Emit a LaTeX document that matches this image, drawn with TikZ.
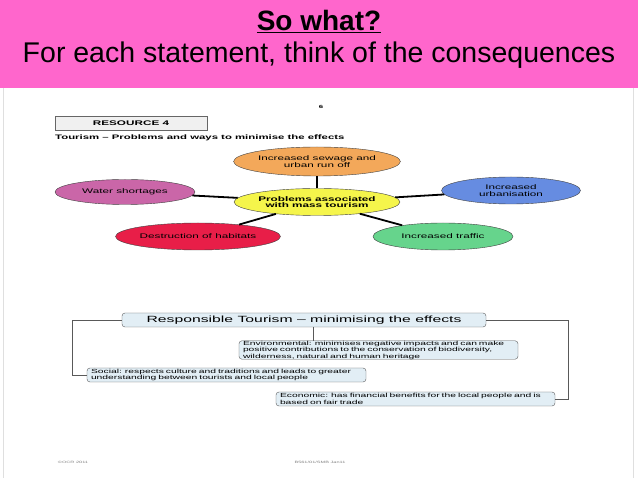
\documentclass[tikz,border=0pt]{standalone}
\usepackage{fontspec}
\setmainfont{Liberation Sans}
\newfontfamily\rfont[FakeStretch=1.75, Ligatures=TeX]{Liberation Sans}
\usetikzlibrary{shapes.geometric, calc}

\definecolor{banner}{RGB}{255,102,204}
\definecolor{sewagefill}{RGB}{243,168,90}
\definecolor{hubfill}{RGB}{245,245,75}
\definecolor{waterfill}{RGB}{202,102,168}
\definecolor{habitatfill}{RGB}{232,30,72}
\definecolor{urbanfill}{RGB}{102,140,225}
\definecolor{trafficfill}{RGB}{102,212,140}
\definecolor{boxblue}{RGB}{226,238,245}

\begin{document}
\begin{tikzpicture}[x=1pt, y=-1pt,
                problem/.style={ellipse, draw=black!75, inner sep=0pt, minimum width=140pt, minimum height=27pt, align=center, font=\rfont\fontsize{6.7}{6.3}\selectfont},
                hub/.style={problem, font=\rfont\bfseries\fontsize{6.7}{6.3}\selectfont},
                spokes/.style={black, line width=1.8pt},
                aim/.style={rectangle, rounded corners=3pt, draw=gray!70!black, fill=boxblue, inner sep=0pt, minimum height=14pt},
                effect/.style={aim, inner xsep=4pt, text width=271pt, align=left, font=\rfont\fontsize{5.9}{5.2}\selectfont},
                links/.style={gray!70!black, thin}
            ]
                \useasboundingbox (0,0) rectangle (638,478);

                % Banner
                \fill[banner] (0,0) rectangle (638,88);
                \node[anchor=base, font=\bfseries\fontsize{28}{32}\selectfont] (title) at (319,31) {\underline{So what?}};
                \node[anchor=base, font=\fontsize{28.5}{32}\selectfont] (subtitle) at (319,63) {For each statement, think of the consequences};

                % Page
                \draw[gray!25] (3,88) -- (3,478);
                \draw[gray!25] (633,88) -- (633,478);
                \node[font=\rfont\bfseries\fontsize{4.5}{5}\selectfont] (page) at (321,107) {6};
                \node[rectangle, draw=gray!80!black, fill=gray!12, minimum width=152pt, minimum height=14pt, inner sep=0pt, font=\rfont\bfseries\fontsize{6.7}{7}\selectfont] (resource) at (131,123.5) {RESOURCE 4};
                \node[anchor=west, inner sep=0pt, font=\rfont\bfseries\fontsize{6.5}{7}\selectfont] (heading) at (55,138) {Tourism – Problems and ways to minimise the effects};

                % Nodes: problems
                \node[hub, fill=hubfill, minimum width=142pt] (hub) at (317,202) {Problems associated\\with mass tourism};
                \node[problem, fill=sewagefill, minimum height=29pt] (sewage) at (317,161.5) {Increased sewage and\\urban run off};
                \node[problem, fill=waterfill, minimum height=25pt] (water) at (125,192) {Water shortages};
                \node[problem, fill=habitatfill, minimum width=139pt] (habitats) at (198,236.5) {Destruction of habitats};
                \node[problem, fill=urbanfill, minimum width=139pt] (urban) at (511,190.5) {Increased\\urbanisation};
                \node[problem, fill=trafficfill] (traffic) at (443,236.5) {Increased traffic};

                % Paths: problems
                \draw[spokes] (hub) -- (sewage);
                \draw[spokes] (hub) -- (water);
                \draw[spokes] (hub) -- (habitats);
                \draw[spokes] (hub) -- (urban);
                \draw[spokes] (hub) -- (traffic);

                % Nodes: responsible tourism
                \node[aim, minimum width=364pt, font=\rfont\fontsize{9}{10}\selectfont] (aim) at (304,320) {Responsible Tourism – minimising the effects};
                \node[effect, minimum height=18pt] (env) at (378.5,350) {Environmental: minimises negative impacts and can make\\positive contributions to the conservation of biodiversity,\\wilderness, natural and human heritage};
                \node[effect] (social) at (226.5,375) {Social: respects culture and traditions and leads to greater\\understanding between tourists and local people};
                \node[effect] (econ) at (415.5,399) {Economic: has financial benefits for the local people and is\\based on fair trade};

                % Paths: responsible tourism
                \draw[links] ([xshift=9pt]aim.south) -- ([xshift=9pt]aim.south |- env.north);
                \draw[links] (aim.west) -- ++(-50,0) |- (social.west);
                \draw[links] (aim.east) -- ++(82,0) |- (econ.east);

                % Footer
                \node[gray, font=\rfont\fontsize{3.2}{4}\selectfont] (copy) at (73,462) {\textcopyright OCR 2011};
                \node[gray, font=\rfont\fontsize{3.2}{4}\selectfont] (code) at (320,462) {B561/01/SMB Jan11};
            \end{tikzpicture}
\end{document}
